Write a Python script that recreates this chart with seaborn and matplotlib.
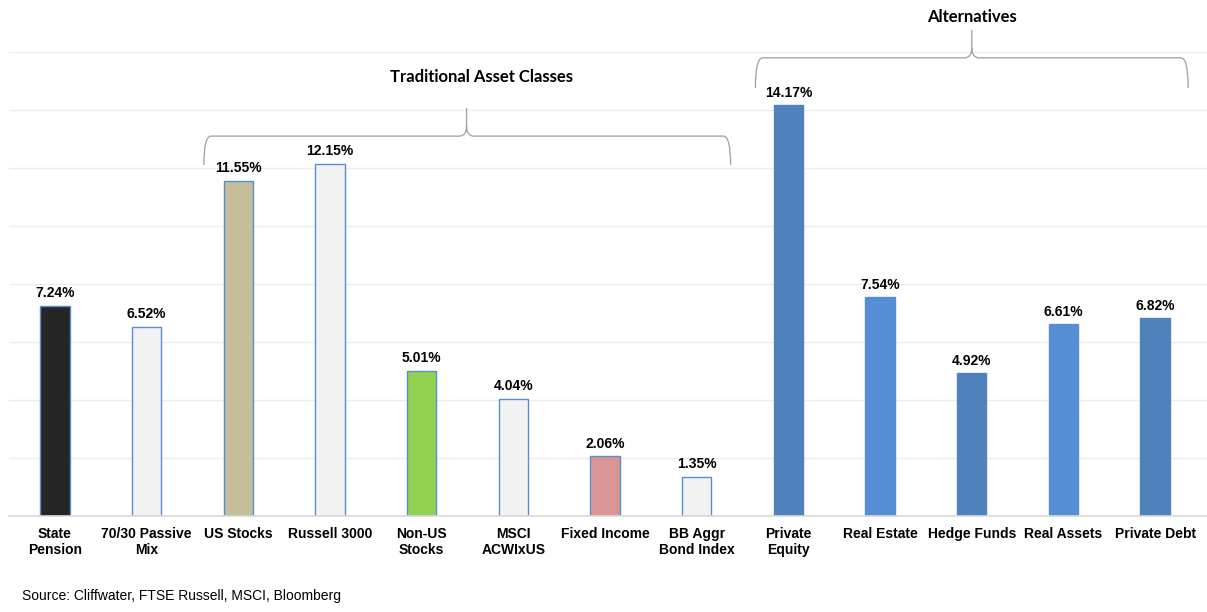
import matplotlib
matplotlib.use("Agg")
import matplotlib.pyplot as plt
from matplotlib.path import Path
import matplotlib.patches as mpatches
import seaborn as sns

# data
categories = ["State\nPension", "70/30 Passive\nMix", "US Stocks", "Russell 3000",
              "Non-US\nStocks", "MSCI\nACWIxUS", "Fixed Income", "BB Aggr\nBond Index",
              "Private\nEquity", "Real Estate", "Hedge Funds", "Real Assets", "Private Debt"]
returns = [7.24, 6.52, 11.55, 12.15, 5.01, 4.04, 2.06, 1.35,
           14.17, 7.54, 4.92, 6.61, 6.82]
fill_colors = ["#262626", "#f2f2f2", "#c4bd97", "#f2f2f2", "#92d050", "#f2f2f2",
               "#da9694", "#f2f2f2", "#4f81bd", "#558ed5", "#4f81bd", "#558ed5", "#4f81bd"]
edge_colors = ["#558ed5"] * 8 + fill_colors[8:]
groups = [("Traditional Asset Classes", 2, 7), ("Alternatives", 8, 12)]
source = "Source: Cliffwater, FTSE Russell, MSCI, Bloomberg"

sns.set_theme(style="white")
plt.rcParams['font.family'] = ['Liberation Sans', 'DejaVu Sans']
plt.rcParams['text.color'] = 'black'
plt.rcParams['xtick.color'] = 'black'

fig = plt.figure(figsize=(12.07, 6.12), dpi=100)
ax = fig.add_axes([9 / 1207, 96 / 612, 1198 / 1207, 464 / 612])

sns.barplot(x=list(range(len(categories))), y=returns, hue=list(range(len(categories))),
            palette=fill_colors, legend=False, width=0.32, ax=ax, saturation=1)

for p, ec in zip(ax.patches, edge_colors):
    p.set_edgecolor(ec)
    p.set_linewidth(1.0)

ax.set_xlim(-0.5, len(categories) - 0.5 + 6 / 91.7)
ax.set_ylim(0, 16)
ax.set_yticks(range(0, 17, 2))
ax.yaxis.grid(True, color="#ececec", linewidth=1)
ax.set_axisbelow(True)
ax.tick_params(axis="y", left=False, labelleft=False)
ax.set_xticks(range(len(categories)))
ax.set_xticklabels(categories, fontsize=10, fontweight="bold", linespacing=1.15)
ax.tick_params(axis="x", length=0, pad=8)
for s in ["top", "right", "left"]:
    ax.spines[s].set_visible(False)
ax.spines["bottom"].set_color("#d9d9d9")
ax.spines["bottom"].set_linewidth(1.2)
ax.set_xlabel("")
ax.set_ylabel("")

for i, v in enumerate(returns):
    ax.annotate(f"{v:.2f}%", (i, v), xytext=(0, 4), textcoords="offset points",
                ha="center", va="bottom", fontsize=10, fontweight="bold", color="black")


def draw_brace(ax, x0, x1, xc, y_end, y_mid, y_tip):
    dx = 0.08
    dy = 0.35
    verts = [(x0, y_end), (x0, y_mid), (x0 + dx, y_mid),
             (xc - dx, y_mid), (xc, y_mid), (xc, y_mid + dy), (xc, y_tip),
             (xc, y_mid + dy), (xc, y_mid), (xc + dx, y_mid),
             (x1 - dx, y_mid), (x1, y_mid), (x1, y_end)]
    codes = [Path.MOVETO, Path.CURVE3, Path.CURVE3,
             Path.LINETO, Path.CURVE3, Path.CURVE3, Path.LINETO,
             Path.MOVETO, Path.CURVE3, Path.CURVE3,
             Path.LINETO, Path.CURVE3, Path.CURVE3]
    patch = mpatches.PathPatch(Path(verts, codes), facecolor="none",
                               edgecolor="#a6a6a6", linewidth=1.0, clip_on=False)
    ax.add_patch(patch)


# Traditional brace
draw_brace(ax, 1.625, 7.37, 4.49, 12.1, 13.1, 14.07)
ax.text(4.65, 15.15, groups[0][0], ha="center", va="center", fontsize=12,
        fontweight="bold", family=["Lato", "DejaVu Sans"], clip_on=False)
# Alternatives brace
draw_brace(ax, 7.64, 12.36, 10.0, 14.76, 15.8, 16.76)
ax.text(10.0, 17.2, groups[1][0], ha="center", va="center", fontsize=12,
        fontweight="bold", family=["Lato", "DejaVu Sans"], clip_on=False)

fig.text(22 / 1207, 1 - 596 / 612, source, ha="left", va="center", fontsize=10)

fig.savefig("out.png", dpi=100)
